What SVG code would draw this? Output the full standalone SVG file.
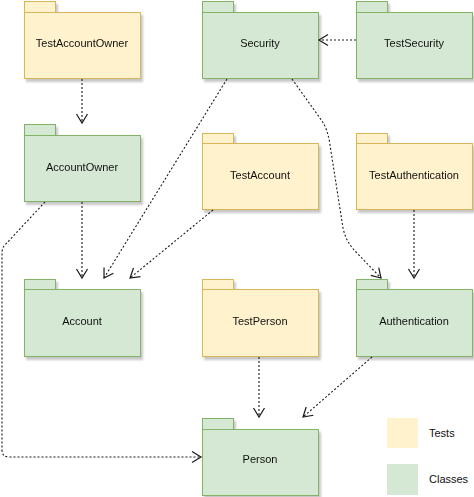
<svg xmlns="http://www.w3.org/2000/svg" width="474" height="497" viewBox="0 0 474 497">
<defs>
<filter id="sh" x="-10%" y="-10%" width="130%" height="130%">
<feDropShadow dx="2" dy="3" stdDeviation="1.2" flood-color="#000" flood-opacity="0.22"/>
</filter>
<marker id="arr" markerUnits="userSpaceOnUse" markerWidth="12" markerHeight="14" viewBox="0 0 12 14" refX="10" refY="7" orient="auto">
<path d="M1,1.5 L10,7 L1,12.5" fill="none" stroke="#1a1a1a" stroke-width="1.2"/>
</marker>
</defs>
<style>
.test{fill:#fff2cc;stroke:#d6b656;stroke-width:1}
.cls{fill:#d5e8d4;stroke:#82b366;stroke-width:1}
.pkg{filter:url(#sh)}
text{font-family:"Liberation Sans",Helvetica,Arial,sans-serif;font-size:11px;fill:#111;text-anchor:middle;dominant-baseline:central}
.edge{fill:none;stroke:#1a1a1a;stroke-width:1.1;stroke-dasharray:2 2;marker-end:url(#arr)}
</style>
<rect width="474" height="497" fill="#fff"/>

<g id="TestAccountOwner" class="pkg">
<rect class="test" x="24.5" y="1.5" width="31" height="11"/>
<rect class="test" x="24.5" y="12.5" width="116" height="66"/>
<text x="82" y="43">TestAccountOwner</text>
</g>
<g id="Security" class="pkg">
<rect class="cls" x="202.5" y="1.5" width="31" height="11"/>
<rect class="cls" x="202.5" y="12.5" width="116" height="66"/>
<text x="260" y="43">Security</text>
</g>
<g id="TestSecurity" class="pkg">
<rect class="cls" x="356.5" y="1.5" width="31" height="11"/>
<rect class="cls" x="356.5" y="12.5" width="116" height="66"/>
<text x="414" y="43">TestSecurity</text>
</g>
<g id="AccountOwner" class="pkg">
<rect class="cls" x="24.5" y="124.5" width="31" height="11"/>
<rect class="cls" x="24.5" y="135.5" width="116" height="66"/>
<text x="82" y="167">AccountOwner</text>
</g>
<g id="TestAccount" class="pkg">
<rect class="test" x="202.5" y="133.5" width="31" height="10"/>
<rect class="test" x="202.5" y="143.5" width="116" height="66"/>
<text x="260" y="175">TestAccount</text>
</g>
<g id="TestAuthentication" class="pkg">
<rect class="test" x="356.5" y="133.5" width="31" height="10"/>
<rect class="test" x="356.5" y="143.5" width="116" height="66"/>
<text x="414" y="175">TestAuthentication</text>
</g>
<g id="Account" class="pkg">
<rect class="cls" x="24.5" y="279.5" width="31" height="10"/>
<rect class="cls" x="24.5" y="289.5" width="116" height="67"/>
<text x="82" y="321">Account</text>
</g>
<g id="TestPerson" class="pkg">
<rect class="test" x="202.5" y="279.5" width="31" height="10"/>
<rect class="test" x="202.5" y="289.5" width="116" height="67"/>
<text x="260" y="321">TestPerson</text>
</g>
<g id="Authentication" class="pkg">
<rect class="cls" x="356.5" y="279.5" width="31" height="10"/>
<rect class="cls" x="356.5" y="289.5" width="116" height="67"/>
<text x="414" y="321">Authentication</text>
</g>
<g id="Person" class="pkg">
<rect class="cls" x="202.5" y="418.5" width="31" height="11"/>
<rect class="cls" x="202.5" y="429.5" width="116" height="66"/>
<text x="260" y="459">Person</text>
</g>

<g id="legend">
<rect x="387" y="418" width="31" height="30" fill="#fff2cc"/>
<text x="429" y="433" style="text-anchor:start">Tests</text>
<rect x="387" y="464" width="31" height="31" fill="#d5e8d4"/>
<text x="429" y="479" style="text-anchor:start">Classes</text>
</g>

<g id="connectors">
<path class="edge" d="M82,79 L82,123"/>
<path class="edge" d="M356,40 L319,40"/>
<path class="edge" d="M227,79 L104,278"/>
<path class="edge" d="M82,202 L82,278"/>
<path class="edge" d="M213,210 L130,278"/>
<path class="edge" d="M45,202 L4,246 Q2,249 2,253 L2,450 Q2,457 9,457 L201,457"/>
<path class="edge" d="M292,79 L322,121 Q328,130 330,145 L343,228 Q346,242 356,252 L381,278"/>
<path class="edge" d="M414,210 L414,278"/>
<path class="edge" d="M259,357 L259,417"/>
<path class="edge" d="M372,357 L303,417"/>
</g>
</svg>
